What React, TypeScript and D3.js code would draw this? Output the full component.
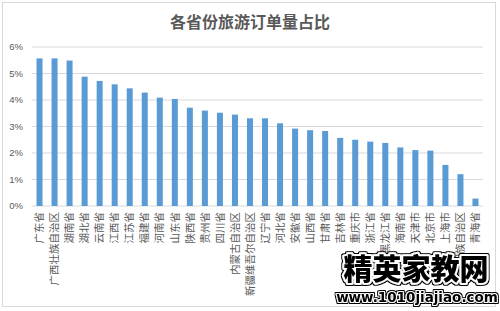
import React from "react";
import * as d3 from "d3";

const provinces = [
  "广东省", "广西壮族自治区", "湖南省", "湖北省", "云南省", "江西省", "江苏省", "福建省", "河南省", "山东省",
  "陕西省", "贵州省", "四川省", "内蒙古自治区", "新疆维吾尔自治区", "辽宁省", "河北省", "安徽省", "山西省", "甘肃省",
  "吉林省", "重庆市", "浙江省", "黑龙江省", "海南省", "天津市", "北京市", "上海市", "宁夏回族自治区", "青海省",
];
const shares = [
  5.57, 5.57, 5.49, 4.88, 4.72, 4.59, 4.44, 4.28, 4.09, 4.04,
  3.71, 3.6, 3.52, 3.45, 3.31, 3.31, 3.12, 2.92, 2.86, 2.83,
  2.57, 2.5, 2.43, 2.38, 2.21, 2.11, 2.09, 1.55, 1.2, 0.28,
];
const yTicks = [0, 1, 2, 3, 4, 5, 6];
const title = "各省份旅游订单量占比";

const W = 500, H = 311;
const plot = { left: 32, right: 483, top: 47, bottom: 206 };

export default function App() {
  const x = d3.scaleBand<string>().domain(provinces).range([plot.left, plot.right]).paddingInner(0.6).paddingOuter(0.3);
  const y = d3.scaleLinear().domain([0, 6]).range([plot.bottom, plot.top]);
  const cjk = "'Noto Sans CJK SC', sans-serif";
  return (
    <svg width={W} height={H} style={{ position: "absolute", left: 0, top: 0, background: "#fff" }}>
      <defs>
        <filter id="outline" x="-10%" y="-30%" width="120%" height="160%">
          <feMorphology in="SourceAlpha" operator="dilate" radius="1.3" result="d" />
          <feFlood floodColor="#000" />
          <feComposite in2="d" operator="in" result="o" />
          <feMerge>
            <feMergeNode in="o" />
            <feMergeNode in="SourceGraphic" />
          </feMerge>
        </filter>
      </defs>
      <rect x={2.5} y={2.5} width={493} height={304} fill="#fff" stroke="#d9d9d9" />
      <text x={250} y={28} textAnchor="middle" fontFamily={cjk} fontSize={16} fontWeight={700} fill="#595959">{title}</text>
      {yTicks.map((t) => (
        <g key={t}>
          <line x1={plot.left} x2={plot.right} y1={y(t)} y2={y(t)} stroke="#d9d9d9" strokeWidth={1} />
          <text x={23} y={y(t)} dy="0.35em" textAnchor="end" fontFamily="'Liberation Sans', sans-serif" fontSize={9.5} fill="#595959">{t}%</text>
        </g>
      ))}
      {provinces.map((p, i) => (
        <rect key={p} x={x(p)} y={y(shares[i])} width={x.bandwidth()} height={y(0) - y(shares[i])} fill="#5b9bd5" />
      ))}
      {provinces.map((p) => {
        const cx = (x(p) as number) + x.bandwidth() / 2;
        return (
          <text key={p} transform={`translate(${cx},212) rotate(-90)`} dy="0.35em" textAnchor="end" fontFamily={cjk} fontSize={10.5} fill="#595959">{p}</text>
        );
      })}
      <g filter="url(#outline)">
        <text x={416} y={280} textAnchor="middle" fontFamily={cjk} fontWeight={900} fontSize={29} fill="#000" stroke="#fff" strokeWidth={4} strokeLinejoin="round" style={{ paintOrder: "stroke" }}>精英家教网</text>
        <text x={417} y={302} textAnchor="middle" fontSize={13.5} fontWeight={700} fontFamily="'DejaVu Sans', sans-serif" fill="#000" stroke="#fff" strokeWidth={2.2} strokeLinejoin="round" style={{ paintOrder: "stroke" }}>www.1010jiajiao.com</text>
      </g>
    </svg>
  );
}
